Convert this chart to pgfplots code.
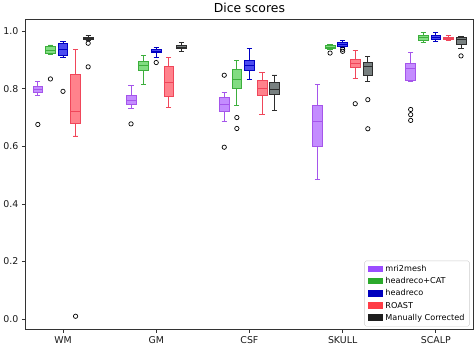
\documentclass[border=0pt]{standalone}
\usepackage{pgfplots}
\pgfplotsset{compat=1.18}
\usepgfplotslibrary{statistics}
\usepackage{fontspec}
\setmainfont{DejaVu Sans}

\definecolor{pEdge}{RGB}{165,85,235}
\definecolor{pFill}{RGB}{196,140,255}
\definecolor{gEdge}{RGB}{60,175,60}
\definecolor{gFill}{RGB}{130,220,130}
\definecolor{bEdge}{RGB}{0,0,195}
\definecolor{bFill}{RGB}{75,75,240}
\definecolor{rEdge}{RGB}{240,70,90}
\definecolor{rFill}{RGB}{255,130,140}
\definecolor{kEdge}{RGB}{45,45,45}
\definecolor{kFill}{RGB}{120,128,128}
\definecolor{pLeg}{RGB}{155,77,255}
\definecolor{gLeg}{RGB}{44,170,44}
\definecolor{bLeg}{RGB}{0,0,190}
\definecolor{rLeg}{RGB}{255,60,70}
\definecolor{kLeg}{RGB}{30,30,30}

\pgfplotsset{
  myboxbase/.style={solid, line width=0.8pt, mark=o, mark size=2.2pt,
    mark options={draw=black, fill=none, line width=0.7pt, solid}},
  myP/.style={myboxbase, draw=pEdge, fill=pFill},
  myG/.style={myboxbase, draw=gEdge, fill=gFill},
  myB/.style={myboxbase, draw=bEdge, fill=bFill},
  myR/.style={myboxbase, draw=rEdge, fill=rFill},
  myK/.style={myboxbase, draw=kEdge, fill=kFill},
  patch/.style={legend image code/.code={%
    \fill[##1, draw=none, sharp corners] (0bp,-3bp) rectangle (16bp,3.5bp);}},
}
% #1 style, #2 position, #3 lw, #4 lq, #5 med, #6 uq, #7 uw, #8 outlier coordinates
\newcommand{\BoxPl}[8]{%
  \addplot[#1, forget plot, boxplot prepared={draw direction=y, draw position=#2,
    lower whisker=#3, lower quartile=#4, median=#5, upper quartile=#6, upper whisker=#7,
    box extend=0.105, whisker extend=0.055}] coordinates {#8};}

\begin{document}
\begin{tikzpicture}
\begin{axis}[
  scale only axis, width=451bp, height=312bp,
  xmin=0.595, xmax=5.405, ymin=-0.036, ymax=1.041,
  xtick={1,2,3,4,5}, xticklabels={WM,GM,CSF,SKULL,SCALP},
  ytick={0,0.2,0.4,0.6,0.8,1.0},
  yticklabel style={/pgf/number format/.cd, fixed, fixed zerofill, precision=1},
  /pgf/number format/assume math mode=true,
  tick align=outside, tick pos=left,
  major tick length=3.5bp,
  tick style={black!80, line width=0.8pt},
  axis line style={black!80, line width=0.8pt},
  ticklabel style={font=\fontsize{9.5}{11}\selectfont, text=black!90},
  title=Dice scores,
  title style={font=\fontsize{12.5}{14}\selectfont, yshift=-3bp},
  legend style={at={(rel axis cs:0.991,0.01)}, anchor=south east,
    font=\fontsize{8.2}{10}\selectfont, draw=black!20, rounded corners=1.5pt,
    inner xsep=3pt, inner ysep=2.5pt, row sep=0.6pt, fill=white},
  legend cell align=left,
]
\addlegendimage{patch, fill=pLeg}
\addlegendentry{mri2mesh}
\addlegendimage{patch, fill=gLeg}
\addlegendentry{headreco+CAT}
\addlegendimage{patch, fill=bLeg}
\addlegendentry{headreco}
\addlegendimage{patch, fill=rLeg}
\addlegendentry{ROAST}
\addlegendimage{patch, fill=kLeg}
\addlegendentry{Manually Corrected}

% WM
\BoxPl{myP}{0.73}{0.777}{0.788}{0.799}{0.808}{0.826}{(0,0.676)}
\BoxPl{myG}{0.865}{0.918}{0.923}{0.934}{0.946}{0.952}{(0,0.834)}
\BoxPl{myB}{1.0}{0.910}{0.915}{0.938}{0.958}{0.963}{(0,0.791)}
\BoxPl{myR}{1.135}{0.636}{0.678}{0.721}{0.851}{0.937}{(0,0.010)}
\BoxPl{myK}{1.27}{0.968}{0.972}{0.975}{0.978}{0.984}{(0,0.958) (0,0.876)}
% GM
\BoxPl{myP}{1.73}{0.731}{0.744}{0.760}{0.776}{0.810}{(0,0.678)}
\BoxPl{myG}{1.865}{0.816}{0.863}{0.882}{0.894}{0.915}{}
\BoxPl{myB}{2.0}{0.908}{0.925}{0.931}{0.938}{0.943}{(0,0.891)}
\BoxPl{myR}{2.135}{0.734}{0.774}{0.822}{0.877}{0.910}{}
\BoxPl{myK}{2.27}{0.929}{0.939}{0.945}{0.951}{0.960}{}
% CSF
\BoxPl{myP}{2.73}{0.685}{0.722}{0.747}{0.771}{0.788}{(0,0.847) (0,0.597)}
\BoxPl{myG}{2.865}{0.743}{0.802}{0.831}{0.868}{0.898}{(0,0.700) (0,0.662)}
\BoxPl{myB}{3.0}{0.831}{0.863}{0.881}{0.898}{0.940}{}
\BoxPl{myR}{3.135}{0.710}{0.776}{0.802}{0.829}{0.857}{}
\BoxPl{myK}{3.27}{0.724}{0.782}{0.797}{0.822}{0.848}{}
% SKULL
\BoxPl{myP}{3.73}{0.486}{0.601}{0.685}{0.743}{0.814}{}
\BoxPl{myG}{3.865}{0.936}{0.940}{0.945}{0.952}{0.955}{(0,0.924)}
\BoxPl{myB}{4.0}{0.943}{0.948}{0.955}{0.961}{0.969}{(0,0.937) (0,0.930)}
\BoxPl{myR}{4.135}{0.837}{0.874}{0.889}{0.902}{0.932}{(0,0.748)}
\BoxPl{myK}{4.27}{0.826}{0.847}{0.879}{0.892}{0.912}{(0,0.762) (0,0.661)}
% SCALP
\BoxPl{myP}{4.73}{0.826}{0.828}{0.871}{0.889}{0.927}{(0,0.728) (0,0.710) (0,0.690)}
\BoxPl{myG}{4.865}{0.961}{0.969}{0.978}{0.986}{0.994}{}
\BoxPl{myB}{5.0}{0.963}{0.972}{0.979}{0.986}{0.994}{}
\BoxPl{myR}{5.135}{0.967}{0.971}{0.975}{0.978}{0.984}{}
\BoxPl{myK}{5.27}{0.940}{0.955}{0.971}{0.978}{0.983}{(0,0.914)}
\end{axis}
\end{tikzpicture}
\end{document}
